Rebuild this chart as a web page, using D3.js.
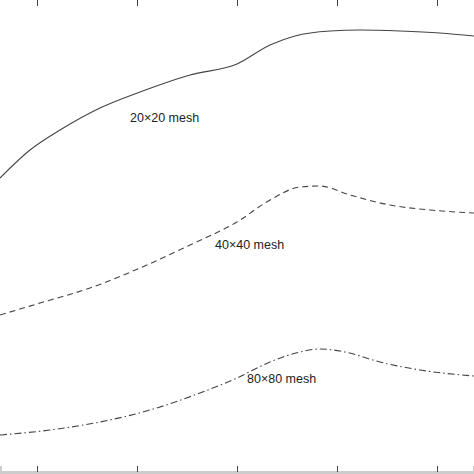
<!DOCTYPE html>
<html><head><meta charset="UTF-8">
<script src="https://cdn.jsdelivr.net/npm/d3@7"></script>
<style>body{margin:0;background:#fff}</style></head>
<body><script>
// x positions (axis units, ticks at 1..5) and y values
const xs = [0.63, 0.93, 1.23, 1.63, 2.03, 2.53, 3.0, 3.33, 3.58, 3.93, 4.23, 4.63, 5.03, 5.37];
const mesh20 = [296, 324, 344, 366, 382, 399, 410, 429, 438, 443, 444, 443, 441, 438];
const xs2 = [0.63, 1.03, 1.53, 2.03, 2.53, 3.0, 3.33, 3.63, 3.83, 4.13, 4.53, 4.93, 5.37];
const mesh40 = [159, 171, 186, 206, 229, 252, 274, 287, 288, 279, 269, 264, 261];
const xs3 = [0.63, 1.13, 1.63, 2.13, 2.63, 3.0, 3.33, 3.63, 3.83, 4.08, 4.43, 4.83, 5.37];
const mesh80 = [39, 44, 52, 64, 81, 96, 112, 122, 125, 122, 112, 104, 98];
const ticks = [1, 2, 3, 4, 5];
const labels = [["20\u00d720 mesh", 1.93, 352], ["40\u00d740 mesh", 2.78, 225], ["80\u00d780 mesh", 3.1, 91]];

const W = 474, H = 474;
const x = d3.scaleLinear().domain([0.63, 5.37]).range([0, W]);
const y = d3.scaleLinear().domain([0, 474]).range([H, 0]);
const svg = d3.select("body").append("svg").attr("width", W).attr("height", H);

svg.append("g").attr("transform", "translate(0,472)")
  .call(d3.axisBottom(x).tickValues(ticks).tickSize(-6).tickFormat(""))
  .call(g => g.select(".domain").attr("stroke", "#ccc").attr("stroke-width", 3))
  .call(g => g.selectAll(".tick line").attr("stroke", "#444"));
svg.append("g").attr("transform", "translate(0,0)")
  .call(d3.axisTop(x).tickValues(ticks).tickSize(-6).tickFormat(""))
  .call(g => g.select(".domain").remove())
  .call(g => g.selectAll(".tick line").attr("stroke", "#444"));

const line = d3.line().curve(d3.curveMonotoneX);
const series = [[xs, mesh20, null], [xs2, mesh40, "6,4"], [xs3, mesh80, "7,3,1.5,3"]];
series.forEach(([xv, yv, dash]) => {
  svg.append("path")
    .attr("d", line(xv.map((v, i) => [x(v), y(yv[i])])))
    .attr("fill", "none").attr("stroke", "#444").attr("stroke-width", 1.1)
    .attr("stroke-dasharray", dash);
});
svg.selectAll("text.lab").data(labels).join("text")
  .attr("x", d => x(d[1])).attr("y", d => y(d[2]))
  .attr("font-family", "Liberation Sans, Arial, sans-serif").attr("font-size", 12.5)
  .attr("fill", "#222").text(d => d[0]);
</script></body></html>
